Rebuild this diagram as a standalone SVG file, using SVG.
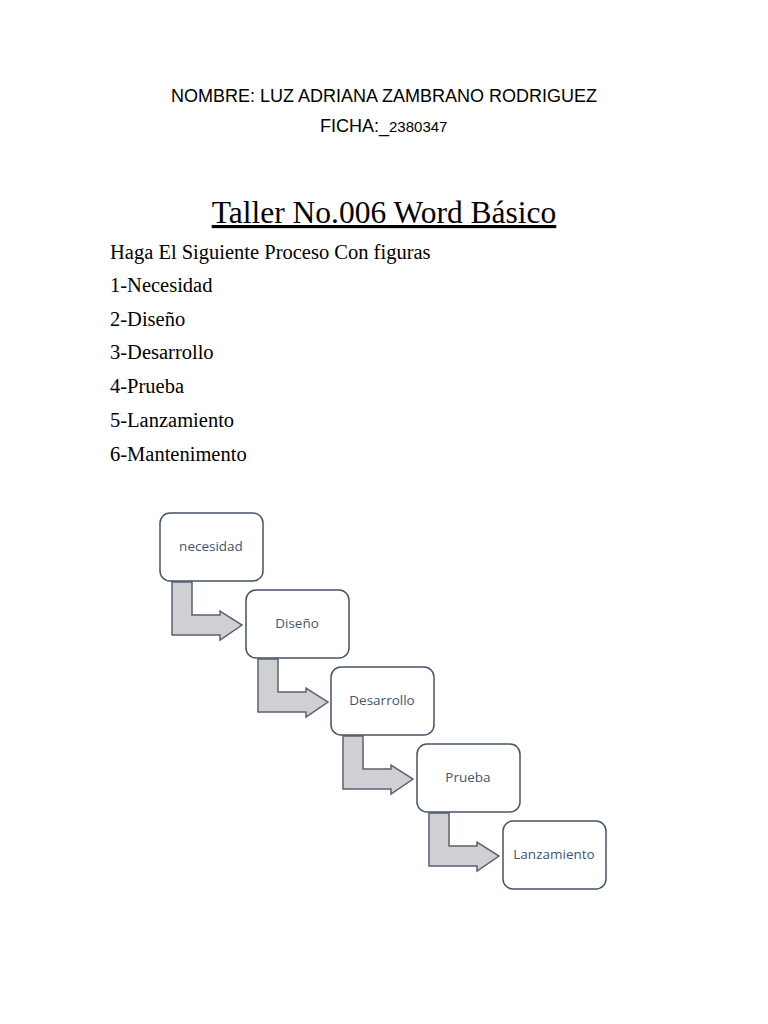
<svg xmlns="http://www.w3.org/2000/svg" width="768" height="1024" viewBox="0 0 768 1024">
<style>
.s{font-family:"Liberation Sans",Arial,sans-serif;font-size:18px;fill:#000}
.t{font-family:"Liberation Serif","Times New Roman",serif;fill:#000}
.box{fill:#fff;stroke:#44546a;stroke-width:1.5}
.lbl{font-family:"Open Sans","Liberation Sans",sans-serif;font-size:13.5px;fill:#44546a;text-anchor:middle}
.arr{fill:#d0d0d4;stroke:#5a6270;stroke-width:1.5}
</style>
<rect width="768" height="1024" fill="#fff"/>
<text class="s" x="384" y="102" text-anchor="middle">NOMBRE: LUZ ADRIANA ZAMBRANO RODRIGUEZ</text>
<text class="s" x="320" y="132">FICHA:_<tspan font-size="15">2380347</tspan></text>
<text class="t" x="384" y="223" font-size="31.5" text-anchor="middle" text-decoration="underline">Taller No.006 Word Básico</text>
<g class="t" font-size="20.5">
<text x="110" y="259">Haga El Siguiente Proceso Con figuras</text>
<text x="110" y="292">1-Necesidad</text>
<text x="110" y="326">2-Diseño</text>
<text x="110" y="359">3-Desarrollo</text>
<text x="110" y="393">4-Prueba</text>
<text x="110" y="427">5-Lanzamiento</text>
<text x="110" y="461">6-Mantenimento</text>
</g>
<g id="connectors">
<path class="arr" d="M172,582 V635 H220 V640 L242,625 L220,611 V615 H192 V582 Z"/>
<path class="arr" d="M258,659 V712 H306 V717 L328,702 L306,688 V692 H278 V659 Z"/>
<path class="arr" d="M343,736 V789 H391 V794 L413,779 L391,765 V769 H363 V736 Z"/>
<path class="arr" d="M429,813 V866 H477 V871 L499,856 L477,842 V846 H449 V813 Z"/>
</g>
<g id="n1"><rect class="box" x="160" y="513" width="103" height="68" rx="10"/><text class="lbl" x="211" y="551">necesidad</text></g>
<g id="n2"><rect class="box" x="246" y="590" width="103" height="68" rx="10"/><text class="lbl" x="297" y="628">Diseño</text></g>
<g id="n3"><rect class="box" x="331" y="667" width="103" height="68" rx="10"/><text class="lbl" x="382" y="705">Desarrollo</text></g>
<g id="n4"><rect class="box" x="417" y="744" width="103" height="68" rx="10"/><text class="lbl" x="468" y="782">Prueba</text></g>
<g id="n5"><rect class="box" x="503" y="821" width="103" height="68" rx="10"/><text class="lbl" x="554" y="859">Lanzamiento</text></g>
</svg>
